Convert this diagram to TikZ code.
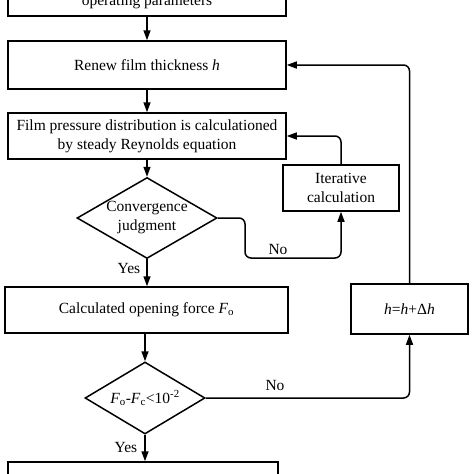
\documentclass[tikz,border=0pt]{standalone}
\usepackage{fontspec}
\setmainfont{Liberation Serif}
\usetikzlibrary{arrows.meta,shapes.geometric}
\begin{document}
\begin{tikzpicture}[x=1pt,y=-1pt,
  every node/.style={font=\fontsize{15.5}{19}\selectfont},
  box/.style={draw,line width=1.5pt,rectangle,inner sep=0pt,align=center},
  dia/.style={draw,line width=1.5pt,diamond,inner sep=0pt},
  line/.style={line width=1.5pt,rounded corners=6pt},
  arr/.style={line,-{Triangle[length=10pt,width=7pt]}},
  lbl/.style={inner sep=0pt}
]
\useasboundingbox[fill=white] (0,0) rectangle (474,474);
% boxes
\node[box,minimum width=278pt,minimum height=48pt] (b1) at (147,-8) {};
\node[lbl,anchor=base] (b1t) at (147,5) {operating parameters};
\node[box,minimum width=278pt,minimum height=48pt] (b2) at (147,65) {Renew film thickness \textit{h}};
\node[box,minimum width=278pt,minimum height=46pt] (b3) at (147,136) {Film pressure distribution is calculationed\\by steady Reynolds equation};
\node[dia,minimum width=140pt,minimum height=81pt] (d1) at (147,218) {};
\node[lbl,align=center] (d1t) at (147,218) {Convergence\\judgment};
\node[box,minimum width=116pt,minimum height=46pt] (it) at (341,188) {Iterative\\calculation};
\node[box,minimum width=283pt,minimum height=46pt] (b4) at (146.5,310) {Calculated opening force \textit{F}\textsubscript{o}};
\node[box,minimum width=117pt,minimum height=50pt] (hb) at (409.5,309) {\textit{h}=\textit{h}+Δ\textit{h}};
\node[dia,minimum width=120pt,minimum height=72pt] (d2) at (145,398) {};
\node[lbl] (d2t) at (145,398) {\textit{F}\textsubscript{o}-\textit{F}\textsubscript{c}<10\textsuperscript{-2}};
\node[box,minimum width=270pt,minimum height=48pt] (fin) at (143,486) {};
% connectors
\draw[arr] (b1.south) -- (b2.north);
\draw[arr] (b2.south) -- (b3.north);
\draw[arr] (b3.south) -- (d1.north);
\draw[arr] (d1.east) -- (245,218) -- (245,258) -- (341,258) -- (it.south);
\draw[arr] (it.north) -- (it.north |- b3.east) -- (b3.east);
\draw[arr] (d1.south) -- (d1.south |- b4.north);
\draw[arr] (hb.north) -- (hb.north |- b2.east) -- (b2.east);
\draw[arr] (b4.south -| d2.north) -- (d2.north);
\draw[arr] (d2.east) -- (d2.east -| hb.south) -- (hb.south);
\draw[arr] (d2.south) -- (d2.south |- fin.north);
% labels
\node[lbl] (no1) at (278,249) {No};
\node[lbl] (yes1) at (129,268) {Yes};
\node[lbl] (no2) at (275,385) {No};
\node[lbl] (yes2) at (126,447) {Yes};
\end{tikzpicture}
\end{document}
